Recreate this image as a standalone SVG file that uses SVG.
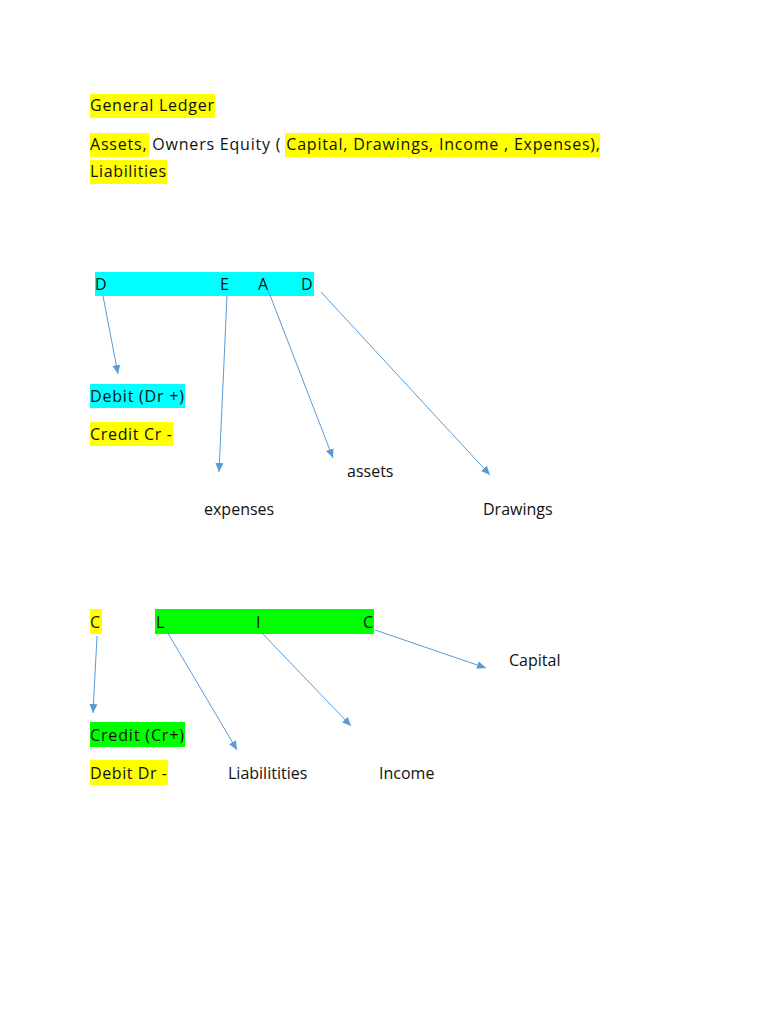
<svg xmlns="http://www.w3.org/2000/svg" width="768" height="1024" viewBox="0 0 768 1024">
<style>
text{font-family:"Open Sans","Liberation Sans",sans-serif;font-size:16px;fill:#111}
.y{fill:#ffff00}.c{fill:#00ffff}.g{fill:#00ff00}
.a{stroke:#5b9bd5;stroke-width:1;fill:none;marker-end:url(#ah)}
</style>
<defs><marker id="ah" markerWidth="10" markerHeight="10" refX="9" refY="5" orient="auto" markerUnits="userSpaceOnUse"><path d="M0,1 L9,5 L0,9 z" fill="#5b9bd5"/></marker></defs>
<rect width="768" height="1024" fill="#fff"/>
<g id="header">
<rect class="y" x="90" y="94" width="125" height="24"/>
<text x="90" y="111" textLength="124">General Ledger</text>
<rect class="y" x="90" y="133" width="59" height="24"/>
<rect class="y" x="285" y="133" width="315" height="24"/>
<text x="90" y="150" textLength="510">Assets, Owners Equity ( Capital, Drawings, Income , Expenses),</text>
<rect class="y" x="90" y="160" width="77" height="24"/>
<text x="90" y="177" textLength="76">Liabilities</text>
</g>
<g id="dead">
<rect class="c" x="95" y="272" width="219" height="24"/>
<text x="95" y="290">D</text><text x="220" y="290">E</text><text x="258" y="290">A</text><text x="301" y="290">D</text>
</g>
<g id="debit"><rect class="c" x="90" y="384" width="95" height="24"/><text x="90" y="402" textLength="94">Debit (Dr +)</text></g>
<g id="credit"><rect class="y" x="90" y="422" width="83" height="24"/><text x="90" y="440" textLength="82">Credit Cr -</text></g>
<g id="assets"><text x="347" y="477">assets</text></g>
<g id="expenses"><text x="204" y="515">expenses</text></g>
<g id="drawings"><text x="483" y="515">Drawings</text></g>
<g id="clic">
<rect class="y" x="90" y="609" width="12" height="25"/>
<rect class="g" x="155" y="609" width="219" height="25"/>
<text x="90" y="628">C</text><text x="156" y="628">L</text><text x="256" y="628">I</text><text x="363" y="628">C</text>
</g>
<g id="capital"><text x="509" y="666">Capital</text></g>
<g id="creditcr"><rect class="g" x="90" y="722" width="95" height="25"/><text x="90" y="741" textLength="94">Credit (Cr+)</text></g>
<g id="debitdr"><rect class="y" x="90" y="760" width="78" height="25"/><text x="90" y="779" textLength="77">Debit Dr -</text></g>
<g id="liab"><text x="228" y="779">Liabilitities</text></g>
<g id="income"><text x="379" y="779">Income</text></g>
<g id="connectors">
<line class="a" x1="103" y1="296" x2="118" y2="374"/>
<line class="a" x1="227" y1="296" x2="219" y2="472"/>
<line class="a" x1="268" y1="290" x2="333" y2="458"/>
<line class="a" x1="321" y1="292" x2="490" y2="475"/>
<line class="a" x1="97" y1="636" x2="93" y2="713"/>
<line class="a" x1="166" y1="630" x2="237" y2="750"/>
<line class="a" x1="261" y1="632" x2="351" y2="726"/>
<line class="a" x1="375" y1="630" x2="486" y2="668"/>
</g>
</svg>
